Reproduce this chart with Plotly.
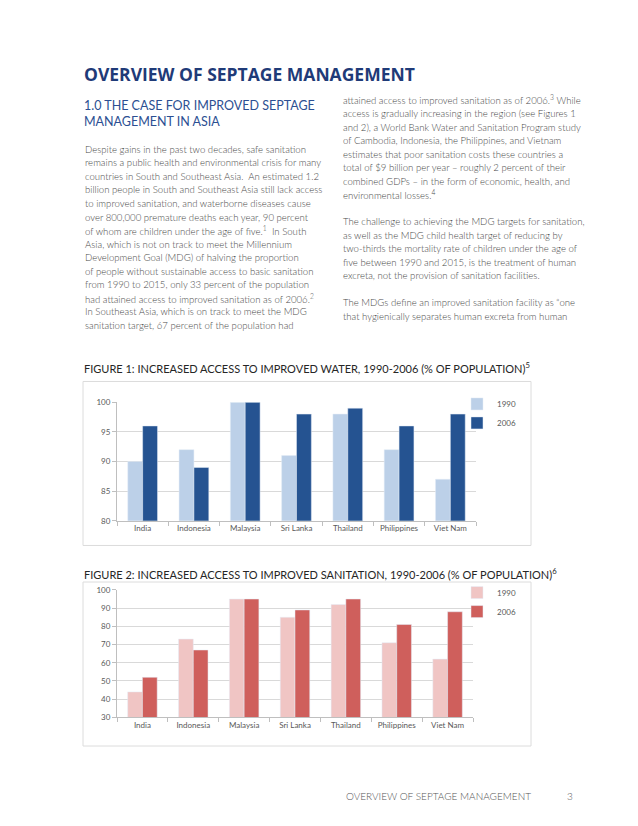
import plotly.graph_objects as go

W, H = 638, 826

# ---------------- data ----------------
categories = ["India", "Indonesia", "Malaysia", "Sri Lanka", "Thailand", "Philippines", "Viet Nam"]
years = ["1990", "2006"]
water_1990 = [90, 92, 100, 91, 98, 92, 87]
water_2006 = [96, 89, 100, 98, 99, 96, 98]
sanitation_1990 = [44, 73, 95, 85, 92, 71, 62]
sanitation_2006 = [52, 67, 95, 89, 95, 81, 88]
water_ticks = [80, 85, 90, 95, 100]
sanitation_ticks = [30, 40, 50, 60, 70, 80, 90, 100]

page_title = "OVERVIEW OF SEPTAGE MANAGEMENT"
section_heading = ["1.0 THE CASE FOR IMPROVED SEPTAGE", "MANAGEMENT IN ASIA"]
left_lines = [
    "Despite gains in the past two decades, safe sanitation",
    "remains a public health and environmental crisis for many",
    "countries in South and Southeast Asia.  An estimated 1.2",
    "billion people in South and Southeast Asia still lack access",
    "to improved sanitation, and waterborne diseases cause",
    "over 800,000 premature deaths each year, 90 percent",
    "of whom are children under the age of five.<sup>1</sup>  In South",
    "Asia, which is not on track to meet the Millennium",
    "Development Goal (MDG) of halving the proportion",
    "of people without sustainable access to basic sanitation",
    "from 1990 to 2015, only 33 percent of the population",
    "had attained access to improved sanitation as of 2006.<sup>2</sup>",
    "In Southeast Asia, which is on track to meet the MDG",
    "sanitation target, 67 percent of the population had",
]
right_lines = [
    "attained access to improved sanitation as of 2006.<sup>3</sup> While",
    "access is gradually increasing in the region (see Figures 1",
    "and 2), a World Bank Water and Sanitation Program study",
    "of Cambodia, Indonesia, the Philippines, and Vietnam",
    "estimates that poor sanitation costs these countries a",
    "total of $9 billion per year \u2013 roughly 2 percent of their",
    "combined GDPs \u2013 in the form of economic, health, and",
    "environmental losses.<sup>4</sup>",
    "",
    "The challenge to achieving the MDG targets for sanitation,",
    "as well as the MDG child health target of reducing by",
    "two-thirds the mortality rate of children under the age of",
    "five between 1990 and 2015, is the treatment of human",
    "excreta, not the provision of sanitation facilities.",
    "",
    "The MDGs define an improved sanitation facility as \u201cone",
    "that hygienically separates human excreta from human",
]
fig1_title = "FIGURE 1: INCREASED ACCESS TO IMPROVED WATER, 1990-2006 (% OF POPULATION)<sup>5</sup>"
fig2_title = "FIGURE 2: INCREASED ACCESS TO IMPROVED SANITATION, 1990-2006 (% OF POPULATION)<sup>6</sup>"
footer_text = "OVERVIEW OF SEPTAGE MANAGEMENT"
page_number = "3"

# ---------------- styling ----------------
BODY_FONT = "Lato"
TEXT_COLOR = "#4a4a4a"
TITLE_BLUE = "#1f3b78"
HEAD_BLUE = "#2c4f92"
WATER_LIGHT = "#bcd0e8"
WATER_DARK = "#255391"
SAN_LIGHT = "#f0c5c4"
SAN_DARK = "#cf5f5c"
TICK_COLOR = "#595959"
GRID = "#d9d9d9"
AXLINE = "#bfbfbf"


def fx(px):
    return px / W


def fy(py):
    return 1 - py / H


fig = go.Figure()

fig.add_trace(go.Bar(x=categories, y=water_1990, name=years[0], marker_color=WATER_LIGHT,
                     xaxis="x", yaxis="y", legend="legend"))
fig.add_trace(go.Bar(x=categories, y=water_2006, name=years[1], marker_color=WATER_DARK,
                     xaxis="x", yaxis="y", legend="legend"))
fig.add_trace(go.Bar(x=categories, y=sanitation_1990, name=years[0], marker_color=SAN_LIGHT,
                     xaxis="x2", yaxis="y2", legend="legend2"))
fig.add_trace(go.Bar(x=categories, y=sanitation_2006, name=years[1], marker_color=SAN_DARK,
                     xaxis="x2", yaxis="y2", legend="legend2"))

tickfont = dict(family="Lato", size=8, color=TICK_COLOR)
xcommon = dict(type="category", showline=True, linecolor=AXLINE, linewidth=1, ticks="outside",
               tickson="boundaries", ticklen=4, tickcolor=AXLINE, showgrid=False,
               tickfont=tickfont, fixedrange=True)
ycommon = dict(showline=True, linecolor=AXLINE, linewidth=1, ticks="outside", ticklen=4,
               tickcolor=AXLINE, showgrid=True, gridcolor=GRID, gridwidth=1, zeroline=False,
               tickfont=tickfont, fixedrange=True)

annotations = []


def add_text(text, x, y, size, color, family=BODY_FONT, weight=None, xanchor="left"):
    font = dict(family=family, size=size, color=color)
    if weight is not None:
        font["weight"] = weight
    annotations.append(dict(text=text, x=fx(x), y=fy(y), xref="paper", yref="paper",
                            xanchor=xanchor, yanchor="middle", showarrow=False, font=font))


add_text(page_title, 74, 62, 17.5, TITLE_BLUE, family="Open Sans", weight=700)
for i, line in enumerate(section_heading):
    add_text(line, 74, 94 + i * 16, 12.5, HEAD_BLUE, weight=400)

LS = 13.7
for i, line in enumerate(left_lines):
    add_text(line, 75, 138 + i * LS, 9.6, TEXT_COLOR, weight=300)
for i, line in enumerate(right_lines):
    if line:
        add_text(line, 333, 88 + i * LS, 9.6, TEXT_COLOR, weight=300)

add_text(fig1_title, 74, 359, 11, "#262626", weight=400)
add_text(fig2_title, 74, 567, 11, "#262626", weight=400)
add_text(footer_text, 336, 793, 10, "#555555", weight=300)
add_text(page_number, 562, 793, 10, "#555555", weight=300, xanchor="center")

shapes = [
    dict(type="rect", xref="paper", yref="paper", x0=fx(75), x1=fx(523), y0=fy(539), y1=fy(373),
         line=dict(color="#dcdcdc", width=1), fillcolor="rgba(0,0,0,0)", layer="below"),
    dict(type="rect", xref="paper", yref="paper", x0=fx(75), x1=fx(523), y0=fy(742), y1=fy(576),
         line=dict(color="#dcdcdc", width=1), fillcolor="rgba(0,0,0,0)", layer="below"),
]

legend_common = dict(xanchor="left", yanchor="top", bgcolor="rgba(0,0,0,0)",
                     font=dict(family="Lato", size=8, color=TICK_COLOR),
                     itemclick=False, itemdoubleclick=False, tracegroupgap=0)

fig.update_layout(
    width=W, height=H,
    margin=dict(l=0, r=0, t=0, b=0),
    paper_bgcolor="white", plot_bgcolor="white",
    barmode="group", bargap=0.42, bargroupgap=0,
    showlegend=True,
    xaxis=dict(domain=[fx(109), fx(468)], anchor="y", **xcommon),
    yaxis=dict(domain=[fy(514), fy(394)], anchor="x", range=[80, 100], tickvals=water_ticks, **ycommon),
    xaxis2=dict(domain=[fx(109), fx(465)], anchor="y2", **xcommon),
    yaxis2=dict(domain=[fy(713), fy(584)], anchor="x2", range=[30, 100], tickvals=sanitation_ticks, **ycommon),
    legend=dict(x=fx(449), y=fy(381), **legend_common),
    legend2=dict(x=fx(449), y=fy(572), **legend_common),
    annotations=annotations,
    shapes=shapes,
)

fig.write_html("out.html")
